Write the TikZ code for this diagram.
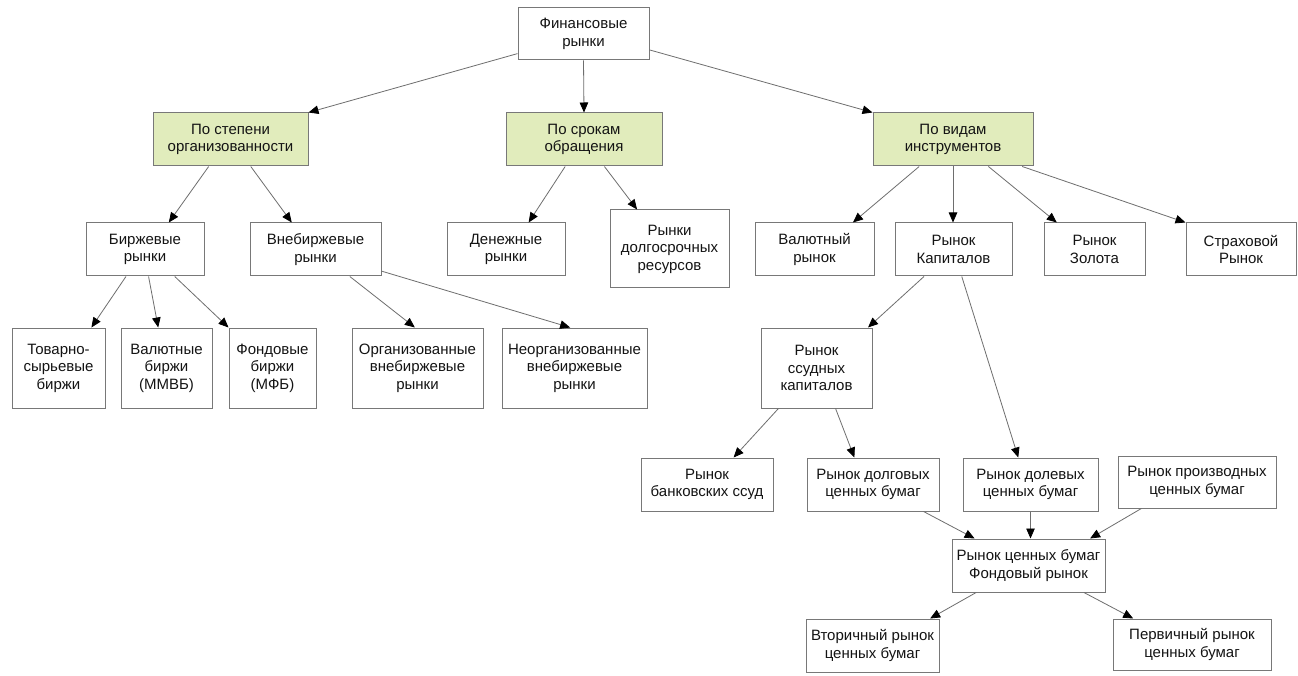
\documentclass[tikz,border=0pt]{standalone}
\usepackage{fontspec}
\setmainfont{Liberation Sans}
\usetikzlibrary{arrows.meta,calc}
\definecolor{boxgray}{RGB}{120,120,120}
\definecolor{linegray}{RGB}{110,110,110}
\definecolor{greenfill}{RGB}{225,236,188}
\definecolor{txt}{RGB}{20,20,20}
\begin{document}
\begin{tikzpicture}[x=1pt,y=-1pt,
  box/.style={draw=boxgray, fill=white, line width=1pt, align=center, inner sep=0pt,
    font=\fontsize{15}{17.5}\selectfont, text=txt},
  gbox/.style={box, fill=greenfill},
  arr/.style={draw=linegray, line width=0.8pt, -{Triangle[length=10pt,width=8.5pt,color=black]}}
]
\useasboundingbox[fill=white] (0,0) rectangle (1298,676);

% level 0
\node[box, minimum width=131, minimum height=52] (fin) at (583.5,34) {Финансовые\\рынки};
% level 1
\node[gbox, minimum width=155, minimum height=53] (step) at (230.5,139.5) {По степени\\организованности};
\node[gbox, minimum width=156, minimum height=53] (srok) at (584,139.5) {По срокам\\обращения};
\node[gbox, minimum width=160, minimum height=53] (vid) at (953,139.5) {По видам\\инструментов};
% level 2
\node[box, minimum width=118, minimum height=53] (birzh) at (145,249.5) {Биржевые\\рынки};
\node[box, minimum width=131, minimum height=53] (vneb) at (315.5,249.5) {Внебиржевые\\рынки};
\node[box, minimum width=118, minimum height=53] (den) at (506,249.5) {Денежные\\рынки};
\node[box, minimum width=119, minimum height=78] (dolg) at (669.5,249) {Рынки\\долгосрочных\\ресурсов};
\node[box, minimum width=119, minimum height=53] (val) at (814.5,249.5) {Валютный\\рынок};
\node[box, minimum width=117, minimum height=53] (kap) at (953.5,249.5) {Рынок\\Капиталов};
\node[box, minimum width=101, minimum height=53] (zol) at (1094.5,249.5) {Рынок\\Золота};
\node[box, minimum width=110, minimum height=53] (strah) at (1241,249.5) {Страховой\\Рынок};
% level 3
\node[box, minimum width=93, minimum height=80] (tov) at (58.5,368) {Товарно-\\сырьевые\\биржи};
\node[box, minimum width=91, minimum height=80] (valb) at (166.5,368) {Валютные\\биржи\\(ММВБ)};
\node[box, minimum width=87, minimum height=80] (fond) at (272.5,368) {Фондовые\\биржи\\(МФБ)};
\node[box, minimum width=131, minimum height=80] (org) at (417.5,368) {Организованные\\внебиржевые\\рынки};
\node[box, minimum width=145, minimum height=80] (neorg) at (574.5,368) {Неорганизованные\\внебиржевые\\рынки};
\node[box, minimum width=111, minimum height=80] (ssud) at (816.5,368) {Рынок\\ссудных\\капиталов};
% level 4
\node[box, minimum width=132, minimum height=53] (bank) at (707,484.5) {Рынок\\банковских ссуд};
\node[box, minimum width=132, minimum height=53] (dolgov) at (873,484.5) {Рынок долговых\\ценных бумаг};
\node[box, minimum width=135, minimum height=53] (dolev) at (1030.5,484.5) {Рынок долевых\\ценных бумаг};
\node[box, minimum width=158, minimum height=52] (proizv) at (1197,482) {Рынок производных\\ценных бумаг};
% level 5
\node[box, minimum width=153, minimum height=53] (cb) at (1028.5,565.5) {Рынок ценных бумаг\\Фондовый рынок};
% level 6
\node[box, minimum width=133, minimum height=53] (vtor) at (872.5,645.5) {Вторичный рынок\\ценных бумаг};
\node[box, minimum width=158, minimum height=51] (perv) at (1192,644.5) {Первичный рынок\\ценных бумаг};

% connectors
\draw[arr] ($(fin.north west)!0.87!(fin.south west)$) -- (step.north east);
\draw[arr] (fin.south) -- (srok.north);
\draw[arr] ($(fin.north east)!0.8!(fin.south east)$) -- (vid.north west);

\draw[arr] ($(step.south west)!0.36!(step.south east)$) -- ($(birzh.north west)!0.70!(birzh.north east)$);
\draw[arr] ($(step.south west)!0.63!(step.south east)$) -- ($(vneb.north west)!0.32!(vneb.north east)$);
\draw[arr] ($(srok.south west)!0.38!(srok.south east)$) -- ($(den.north west)!0.69!(den.north east)$);
\draw[arr] ($(srok.south west)!0.63!(srok.south east)$) -- ($(dolg.north west)!0.23!(dolg.north east)$);

\draw[arr] ($(vid.south west)!0.29!(vid.south east)$) -- ($(val.north west)!0.82!(val.north east)$);
\draw[arr] (vid.south) -- (kap.north -| vid.south);
\draw[arr] ($(vid.south west)!0.72!(vid.south east)$) -- ($(zol.north west)!0.13!(zol.north east)$);
\draw[arr] ($(vid.south west)!0.93!(vid.south east)$) -- (strah.north west);

\draw[arr] ($(birzh.south west)!0.34!(birzh.south east)$) -- ($(tov.north west)!0.85!(tov.north east)$);
\draw[arr] ($(birzh.south west)!0.53!(birzh.south east)$) -- ($(valb.north west)!0.41!(valb.north east)$);
\draw[arr] ($(birzh.south west)!0.75!(birzh.south east)$) -- (fond.north west);
\draw[arr] ($(vneb.south west)!0.76!(vneb.south east)$) -- ($(org.north west)!0.48!(org.north east)$);
\draw[arr] ($(vneb.north east)!0.9!(vneb.south east)$) -- ($(neorg.north west)!0.47!(neorg.north east)$);

\draw[arr] ($(kap.south west)!0.25!(kap.south east)$) -- ($(ssud.north west)!0.96!(ssud.north east)$);
\draw[arr] ($(kap.south west)!0.57!(kap.south east)$) -- ($(dolev.north west)!0.41!(dolev.north east)$);
\draw[arr] ($(ssud.south west)!0.16!(ssud.south east)$) -- ($(bank.north west)!0.70!(bank.north east)$);
\draw[arr] ($(ssud.south west)!0.67!(ssud.south east)$) -- ($(dolgov.north west)!0.36!(dolgov.north east)$);

\draw[arr] ($(dolgov.south west)!0.88!(dolgov.south east)$) -- ($(cb.north west)!0.15!(cb.north east)$);
\draw[arr] ($(dolev.south west)!0.5!(dolev.south east)$) -- (cb.north -| dolev.south);
\draw[arr] ($(proizv.south west)!0.15!(proizv.south east)$) -- ($(cb.north west)!0.90!(cb.north east)$);
\draw[arr] ($(cb.south west)!0.16!(cb.south east)$) -- ($(vtor.north west)!0.93!(vtor.north east)$);
\draw[arr] ($(cb.south west)!0.86!(cb.south east)$) -- ($(perv.north west)!0.13!(perv.north east)$);
\end{tikzpicture}
\end{document}
